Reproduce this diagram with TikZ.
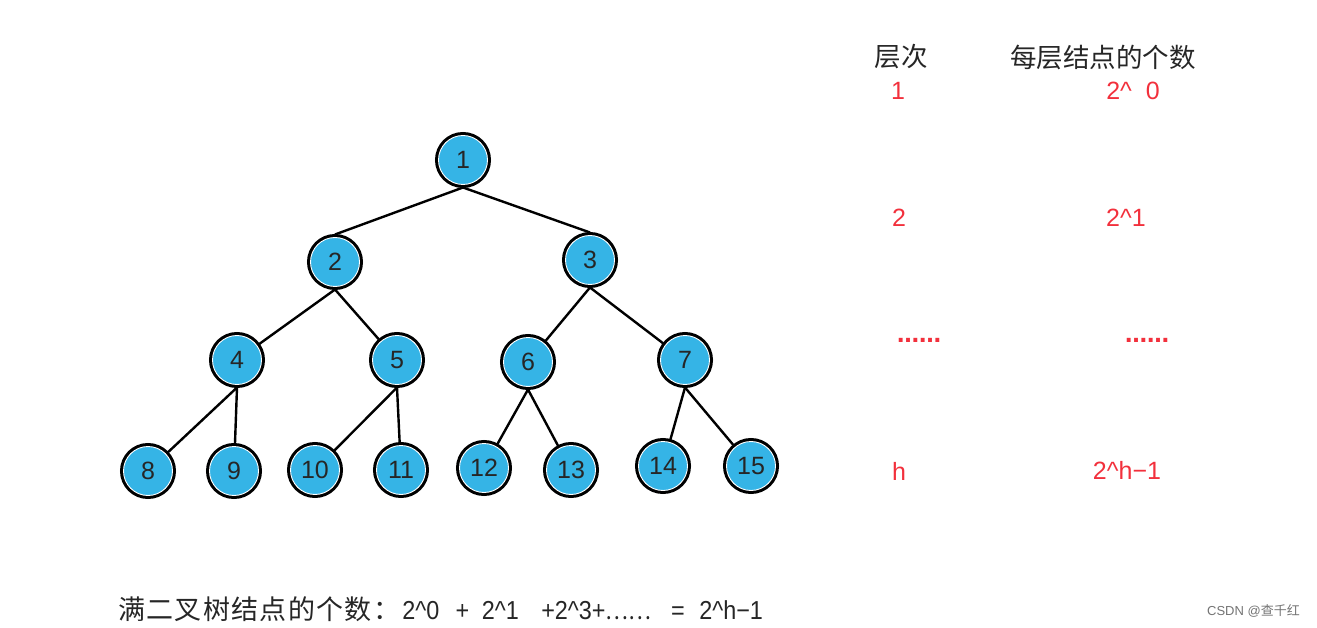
\documentclass[tikz,border=0pt]{standalone}
\usepackage{fontspec}
\setmainfont{Liberation Sans}
\newfontfamily\cjk{Noto Sans CJK SC}
\newfontfamily\dotsfont{DejaVu Sans Bold}
\definecolor{nodeblue}{HTML}{35B4E6}
\definecolor{lblred}{HTML}{F2303C}
\begin{document}
\begin{tikzpicture}[x=1pt,y=-1pt,
  tnode/.style={circle, minimum size=49pt, inner sep=0pt, outer sep=3pt,
    fill=nodeblue, draw=white, line width=0.9pt,
    preaction={draw=black, line width=7pt},
    font=\fontsize{25}{25}\selectfont, text=black!85},
  edge/.style={line width=2.4pt, black},
  head/.style={font=\cjk\fontsize{26.5}{26.5}\selectfont, text=black!85},
  red/.style={font=\fontsize{25}{25}\selectfont, text=lblred}]
\useasboundingbox (0,0) rectangle (1317,628);
\node[tnode] (n1) at (463,160) {1};
\node[tnode] (n2) at (335,262) {2};
\node[tnode] (n3) at (590,260) {3};
\node[tnode] (n4) at (237,360) {4};
\node[tnode] (n5) at (397,360) {5};
\node[tnode] (n6) at (528,362) {6};
\node[tnode] (n7) at (685,360) {7};
\node[tnode] (n8) at (148,471) {8};
\node[tnode] (n9) at (234,471) {9};
\node[tnode] (n10) at (315,470) {10};
\node[tnode] (n11) at (401,470) {11};
\node[tnode] (n12) at (484,468) {12};
\node[tnode] (n13) at (571,470) {13};
\node[tnode] (n14) at (663,466) {14};
\node[tnode] (n15) at (751,466) {15};
\draw[edge] (n1.south) -- (n2.north);
\draw[edge] (n1.south) -- (n3.north);
\foreach \p/\c in {n2/n4,n2/n5,n3/n6,n3/n7,n4/n8,n4/n9,n5/n10,n5/n11,n6/n12,n6/n13,n7/n14,n7/n15}
  \draw[edge] (\p.south) -- (\c);
\node[head] (h1) at (901,57) {层次};
\node[head] (h2) at (1103,57) {每层结点的个数};
\node[red] (a1) at (898,91) {1};
\node[red] (b1) at (1133,91) {2\^{}\ \ 0};
\node[red] (a2) at (899,218) {2};
\node[red] (b2) at (1126,218) {2\^{}1};
\node[red] (a3) at (919,340) {\dotsfont\fontsize{22}{22}\selectfont ……};
\node[red] (b3) at (1147,340) {\dotsfont\fontsize{22}{22}\selectfont ……};
\node[red] (a4) at (899,471) {h};
\node[red] (b4) at (1127,470) {2\^{}h−1};
\node[anchor=base west, inner sep=0pt, text=black!85] (sum) at (118,619)
  {{\cjk\fontsize{27}{27}\selectfont\addfontfeature{LetterSpace=5}满二叉树结点的个数：}\hspace{2pt}%
   \scalebox{0.9}[1]{\fontsize{26}{26}\selectfont 2\^{}0\hspace{18pt}+\hspace{14pt}2\^{}1\hspace{25pt}+2\^{}3+{\cjk\fontsize{24}{24}\selectfont ……}\hspace{22pt}=\hspace{16pt}2\^{}h−1}};
\node[anchor=east, inner sep=0pt, text=black!55] (wm) at (1300,611)
  {\fontsize{13}{13}\selectfont CSDN @{\cjk 查千红}};
\end{tikzpicture}
\end{document}
